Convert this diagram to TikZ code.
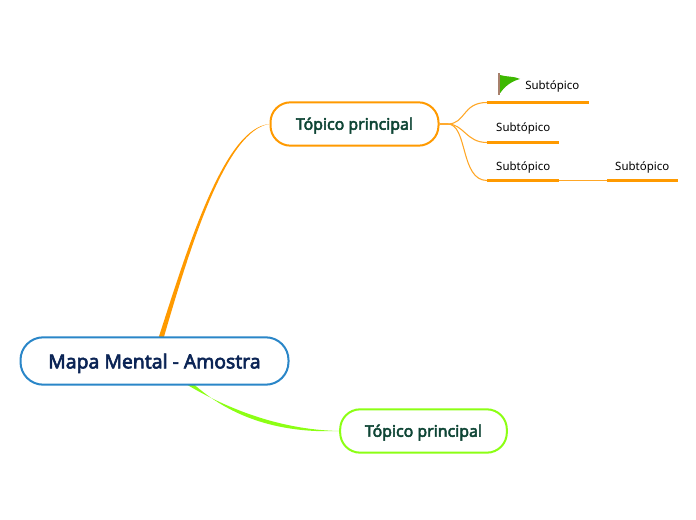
\documentclass[tikz,border=0pt]{standalone}
\usepackage{fontspec}
\setmainfont{Noto Sans}
\newfontfamily\semib[FakeBold=3]{Noto Sans}
\definecolor{rootblue}{HTML}{2A86C8}
\definecolor{rootink}{HTML}{0B2455}
\definecolor{topicink}{HTML}{0E4535}
\definecolor{org}{HTML}{FF9A00}
\definecolor{lorg}{HTML}{FFA726}
\definecolor{lime}{HTML}{8CFF14}
\definecolor{flagg}{HTML}{3DB800}
\definecolor{pole}{HTML}{A8806C}
\tikzset{
 x=0.75pt,y=-0.75pt,
 pill/.style={draw,fill=white,rounded corners=15pt,inner sep=0pt,line width=1.5pt,text depth=0pt},
 rootnode/.style={pill,rounded corners=17pt,draw=rootblue,text=rootink,minimum width=201pt,minimum height=35.5pt,font=\semib\fontsize{14.5}{16}\selectfont},
 topicorg/.style={pill,draw=org,text=topicink,minimum width=126pt,minimum height=32.5pt,font=\semib\fontsize{11.9}{14}\selectfont},
 topiclime/.style={pill,draw=lime,text=topicink,minimum width=125pt,minimum height=32.5pt,font=\semib\fontsize{11.9}{14}\selectfont},
 subnode/.style={anchor=south east,inner xsep=6.4pt,inner ysep=0pt,font=\fontsize{8.6}{10}\selectfont,text=black,minimum height=19pt,align=right},
 rule/.style={draw=org,line width=2.5pt},
 twig/.style={draw=lorg,line width=0.8pt},
}
\begin{document}
\begin{tikzpicture}
\useasboundingbox[fill=white] (0,0) rectangle (696,520);
\coordinate (s1r) at (589,102.5);
\coordinate (s1l) at (487,102.5);
\coordinate (s2r) at (559,142.5);
\coordinate (s2l) at (487,142.5);
\coordinate (s3r) at (559,180.5);
\coordinate (s3l) at (487,180.5);
\coordinate (s4r) at (678,180.5);
\coordinate (s4l) at (607,180.5);
\coordinate (ot) at (161,337);
\coordinate (gt) at (190,385);
\node[topicorg] (t1) at (354.5,124) {\raisebox{0.5pt}{Tópico principal}};
\node[topiclime] (t2) at (423.5,431) {\raisebox{0.5pt}{Tópico principal}};
\fill[org] (ot) ++(-2.2,0) .. controls (190,240) and (225,128) .. (t1.west) .. controls (227,130) and (192,240) .. ([xshift=2.2]ot) -- cycle;
\fill[lime] (gt) ++(-2.5,0) .. controls (238,415) and (290,430) .. (t2.west) .. controls (290,433) and (238,423) .. ([xshift=3.5]gt) -- cycle;
\node[rootnode] (root) at (154.5,361) {Mapa Mental - Amostra};
\node[subnode,xshift=-0.7pt] (s1) at (s1r) [yshift=2.4pt] {Subtópico};
\node[subnode] (s2) at (s2r) [yshift=0.9pt] {Subtópico};
\node[subnode] (s3) at (s3r) [yshift=0.4pt] {Subtópico};
\node[subnode] (s4) at (s4r) [yshift=0.4pt] {Subtópico};
\draw[rule] (s1l) -- (s1r);
\draw[rule] (s2l) -- (s2r);
\draw[rule] (s3l) -- (s3r);
\draw[rule] (s4l) -- (s4r);
\draw[twig] (t1.east) -- ++(8,0) .. controls (466,124) and (462,102.5) .. (s1l);
\draw[twig] (t1.east) -- ++(8,0) .. controls (464,124) and (466,142.5) .. (s2l);
\draw[twig] (t1.east) -- ++(8,0) .. controls (468,124) and (460,180.5) .. (s3l);
\draw[twig] (s3r) -- (s4l);
\fill[pole] (498,73) rectangle (500.2,95);
\fill[flagg] (500,75) .. controls (506,77) and (514,76) .. (520,79) .. controls (512,81) and (505,86) .. (500.2,93) -- cycle;
\end{tikzpicture}
\end{document}
